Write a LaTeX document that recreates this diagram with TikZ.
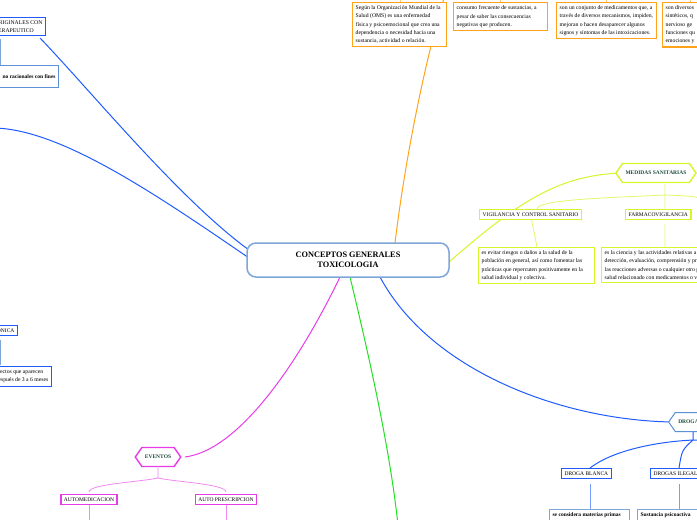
\documentclass[tikz,border=0pt]{standalone}
\usepackage{fontspec}
\setmainfont{Liberation Serif}
\usetikzlibrary{shapes.symbols}
\definecolor{org}{HTML}{FFA31A}
\definecolor{yel}{HTML}{D6F52A}
\definecolor{blu}{HTML}{1F5BFF}
\definecolor{lblu}{HTML}{5B8FD6}
\definecolor{cblu}{HTML}{7EA6D8}
\definecolor{mag}{HTML}{E83BE8}
\definecolor{grn}{HTML}{22E022}
\definecolor{dgreen}{HTML}{1E4D3C}
\begin{document}
\hyphenpenalty=10000
\begin{tikzpicture}[x=1pt,y=-1pt,
 txt/.style={font=\fontsize{5.7}{8.3}\selectfont,align=flush left,inner sep=3pt,fill=white},
 lab/.style={font=\fontsize{5.5}{7}\selectfont,inner sep=3pt,fill=white},
 hexa/.style={signal,signal to=west and east,signal pointer angle=110,fill=white,font=\bfseries\fontsize{5.5}{7}\selectfont,text=dgreen,inner sep=3pt,minimum height=19pt},
 ob/.style={draw=org,line width=1.4pt},
 yb/.style={draw=yel,line width=1.4pt},
 bb/.style={draw=blu,line width=1.2pt},
 mb/.style={draw=mag,line width=1.4pt}]
\useasboundingbox (0,0) rectangle (697,520);
\clip (0,0) rectangle (697,520);
% connectors
\draw[org,line width=1pt] (395,243) .. controls (405,160) and (425,60) .. (445,-5);
\foreach \x in {400,500,606,690}{\draw[org!60,line width=0.8pt] (\x,2) -- (\x,-5);}
\draw[yel,line width=1pt] (449,262) .. controls (520,200) and (560,175) .. (622,173);
\draw[grn,line width=1pt] (350,277) .. controls (370,360) and (390,450) .. (398,525);
\draw[mag,line width=1pt] (340,277) .. controls (300,360) and (240,450) .. (185,457);
\draw[blu,line width=1pt] (380,277) .. controls (430,370) and (560,420) .. (672,422);
\draw[blu,line width=1pt] (249,250) .. controls (180,200) and (90,90) .. (40,38);
\draw[blu,line width=1pt] (249,258) .. controls (150,190) and (60,130) .. (-5,128);
% orange boxes
\node[txt,ob,anchor=north west,text width=88pt] (o1) at (352,2) {Según la Organización Mundial de la Salud (OMS) es una enfermedad física y psicoemocional que crea una dependencia o necesidad hacia una sustancia, actividad o relación.};
\node[txt,ob,anchor=north west,text width=88pt] (o2) at (453,2) {consumo frecuente de sustancias, a pesar de saber las consecuencias negativas que producen.};
\node[txt,ob,anchor=north west,text width=94pt] (o3) at (556,2) {son un conjunto de medicamentos que, a través de diversos mecanismos, impiden, mejoran o hacen desaparecer algunos signos y síntomas de las intoxicaciones.};
\node[txt,ob,anchor=north west,text width=80pt] (o4) at (662,2) {son diversos\\sintéticos, q\\nervioso ge\\funciones qu\\emociones y};
% center node
\node[draw=cblu,line width=1.5pt,rounded corners=9pt,fill=white,minimum width=202pt,minimum height=34pt,align=center,font=\bfseries\fontsize{8.3}{10}\selectfont] (center) at (348,260) {CONCEPTOS GENERALES\\TOXICOLOGIA};
% medidas sanitarias
\node[hexa,draw=yel,line width=1.4pt,anchor=west] (ms) at (615,173) {MEDIDAS SANITARIAS\hspace{20pt}};
\draw[yel!70,line width=0.8pt] (665,184) -- (665,195) (537,209) .. controls (537,200) and (600,198) .. (665,195) -- (665,209) (665,195) .. controls (690,196) .. (700,198);
\node[lab,yb,anchor=north west] (vig) at (479,209) {VIGILANCIA Y CONTROL SANITARIO};
\node[lab,yb,anchor=north west] (far) at (625,209) {FARMACOVIGILANCIA\hspace{20pt}};
\draw[yel!70,line width=0.8pt] (vig) -- (537,247) (665,224) -- (665,247);
\node[txt,yb,anchor=north west,text width=110pt] (vt) at (478,247) {es evitar riesgos o daños a la salud de la población en general, así como fomentar las prácticas que repercuten positivamente en la salud individual y colectiva.};
\node[txt,yb,anchor=north west,text width=120pt] (ft) at (601,247) {es la ciencia y las actividades relativas a la detección, evaluación, comprensión y prevención de las reacciones adversas o cualquier otro problema de salud relacionado con medicamentos o vacunas.};
% drogas
\node[hexa,draw=lblu,line width=1pt,anchor=west] (dr) at (668,422) {DROGAS};
\draw[blu,line width=1pt] (693,432) -- (693,440) (590,468) .. controls (620,445) and (680,440) .. (697,440) (679,468) .. controls (682,450) .. (693,440);
\node[lab,bb,anchor=north west] (db) at (561,468) {DROGA BLANCA};
\node[lab,bb,anchor=north west] (di) at (650,468) {DROGAS ILEGALES};
\draw[blu!60,line width=0.8pt] (590,484) -- (590,509) (679,484) -- (679,509);
\node[txt,draw=cblu,line width=1.2pt,anchor=north west,text width=74pt,font=\bfseries\fontsize{5.5}{8}\selectfont] (dbt) at (549,509) {se considera materias primas};
\node[txt,draw=cblu,line width=1.2pt,anchor=north west,text width=80pt,font=\bfseries\fontsize{5.5}{8}\selectfont] (dit) at (637,509) {Sustancia psicoactiva};
% left boxes
\node[txt,bb,anchor=north east] (l1) at (46,17) {ORIGINALES CON\\TERAPEUTICO};
\draw[cblu,line width=0.8pt] (0,39) -- (0,65);
\node[txt,draw=lblu,line width=0.8pt,anchor=north east,minimum height=22pt,font=\bfseries\fontsize{5.5}{8}\selectfont] (l2) at (59,65) {no racionales con fines};
\node[lab,bb,anchor=north east] (l3) at (18,325) {CRONICA};
\draw[cblu,line width=0.8pt] (0,340) -- (0,365);
\node[txt,bb,anchor=north east] (l4) at (52,366) {efectos que aparecen\\después de 3 a 6 meses};
% eventos
\node[hexa,draw=mag,line width=1.4pt] (ev) at (158,457) {EVENTOS};
\draw[mag!60,line width=0.8pt] (158,466) -- (158,478) (89,492) .. controls (89,484) and (140,482) .. (158,478) .. controls (176,482) and (226,484) .. (226,492);
\node[lab,mb] (am) at (89,499.5) {AUTOMEDICACION};
\node[lab,mb] (ap) at (226,499.5) {AUTO PRESCRIPCION};
\draw[mag!60,line width=0.8pt] (am.south) -- (89,525) (ap.south) -- (226,525);
\end{tikzpicture}
\end{document}
